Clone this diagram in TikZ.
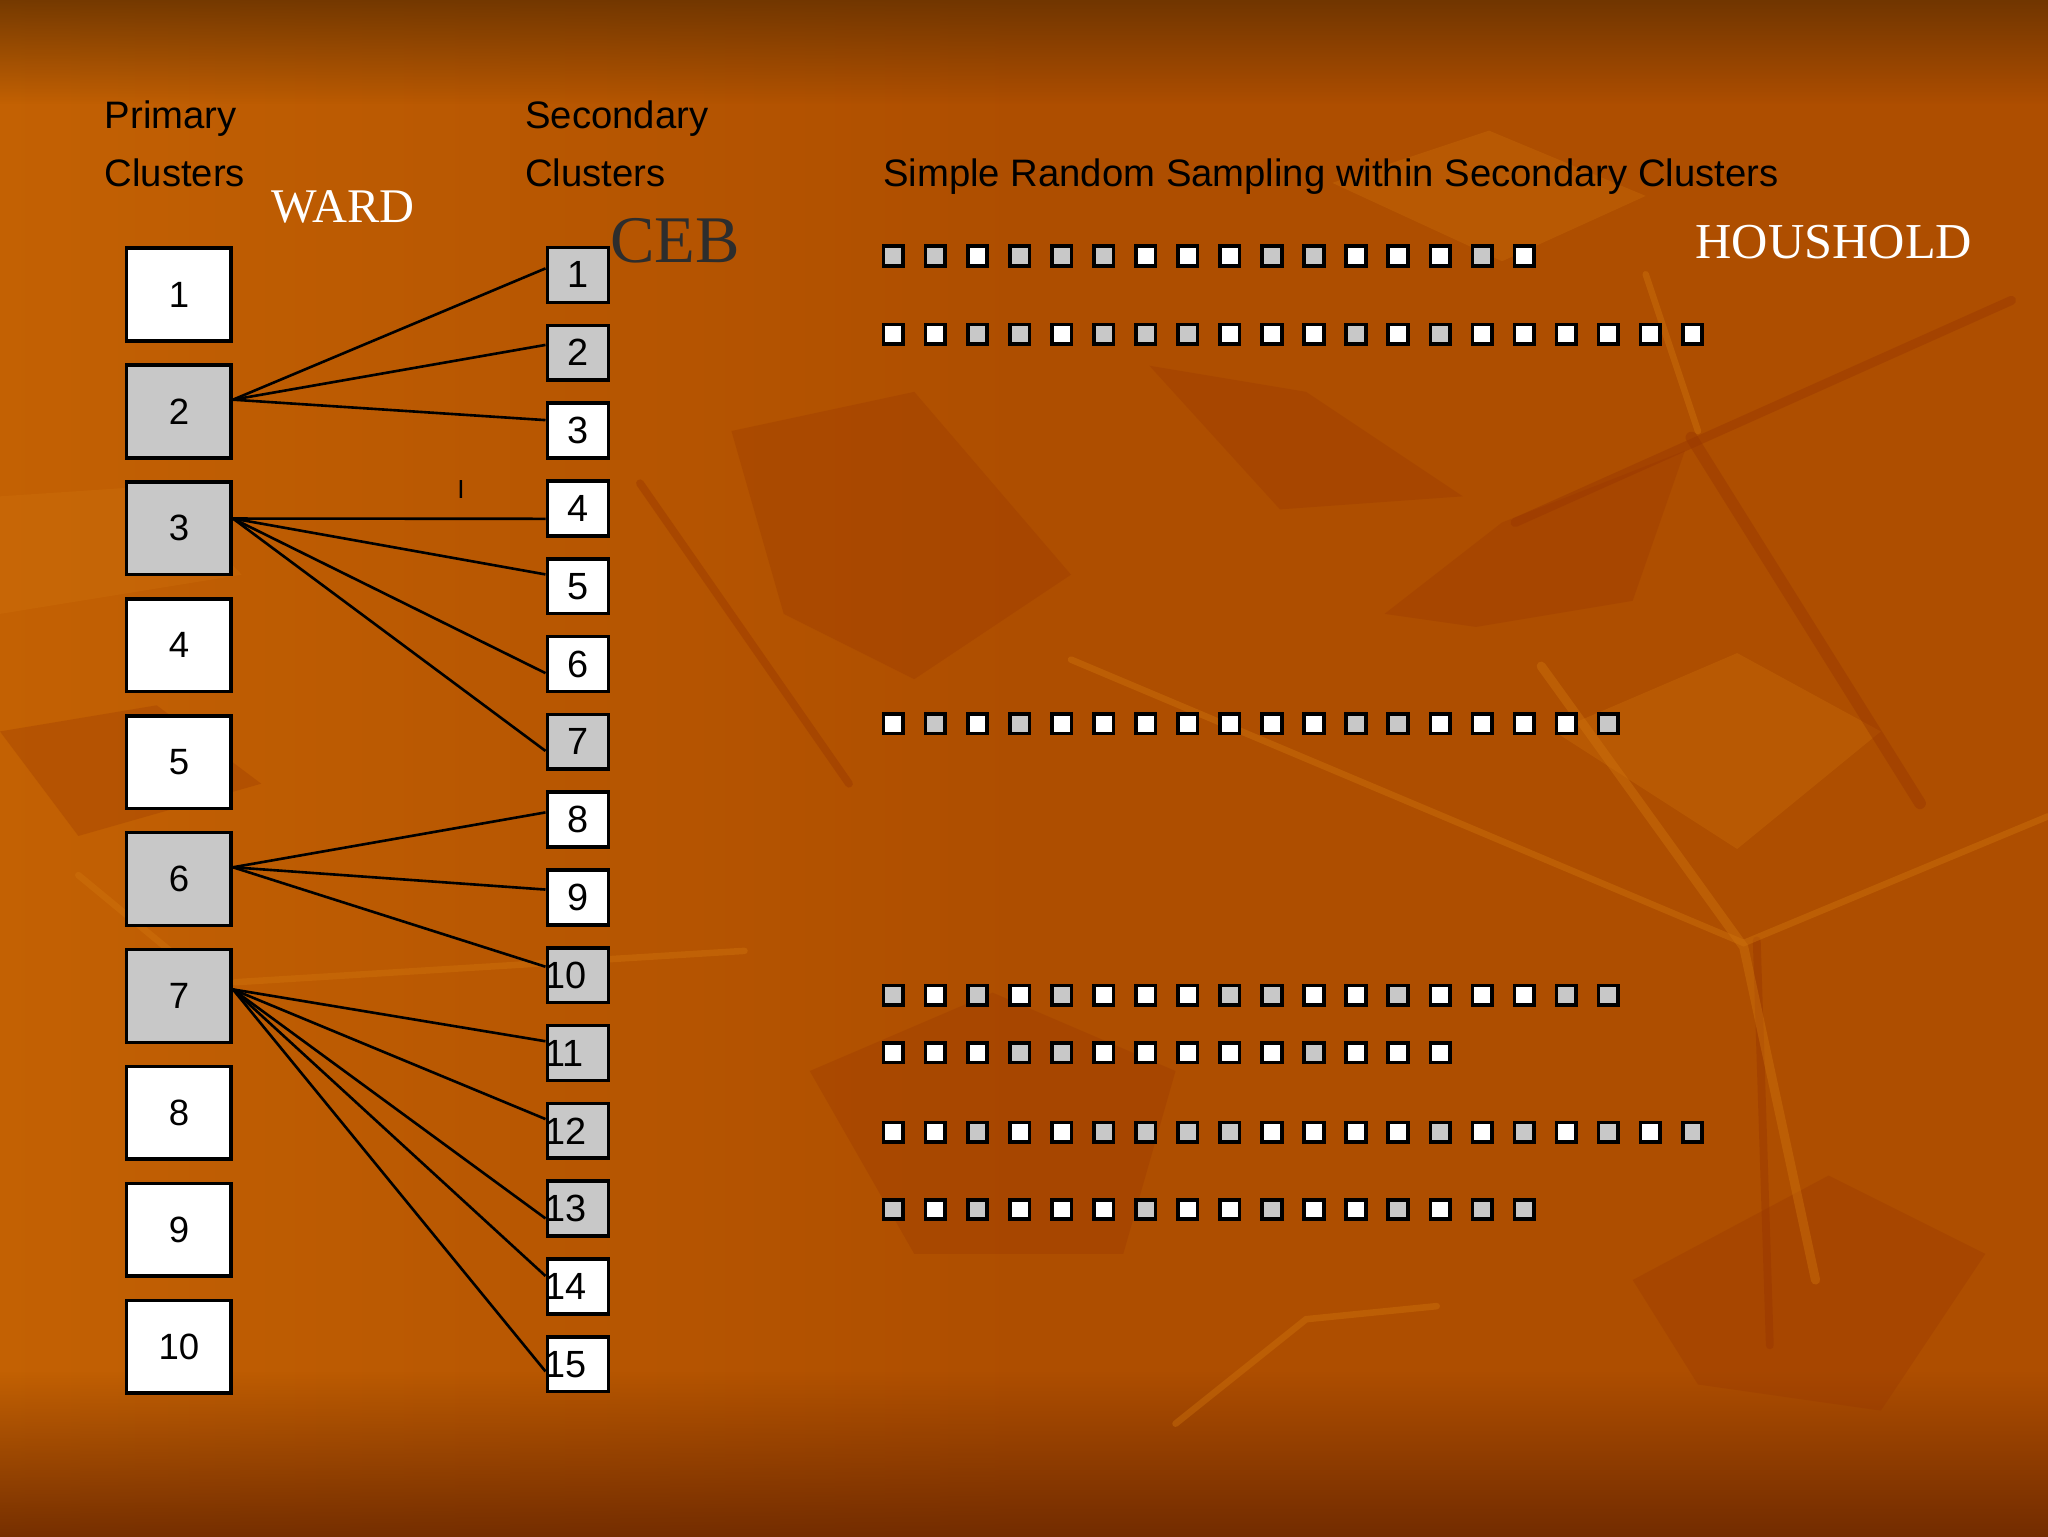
\documentclass[tikz,border=0pt]{standalone}
\usepackage{fontspec}
\setmainfont{Liberation Sans}
\newfontfamily\serifface{Liberation Serif}
\usetikzlibrary{calc,fadings}
\definecolor{bgmid}{RGB}{174,78,0}
\definecolor{bglite}{RGB}{196,98,4}
\definecolor{bgtop}{RGB}{98,48,0}
\definecolor{bgbot}{RGB}{104,38,0}
\definecolor{leafdark}{RGB}{150,52,0}
\definecolor{leaflight}{RGB}{210,118,14}
\definecolor{boxgray}{RGB}{200,200,200}
\definecolor{cebgray}{RGB}{45,45,45}
\tikzfading[name=fadedown, top color=transparent!0, bottom color=transparent!100]
\tikzfading[name=fadeup, top color=transparent!100, bottom color=transparent!0]
\tikzfading[name=faderight, left color=transparent!0, right color=transparent!100]
\tikzset{
  pbox/.style={draw=black, line width=2.7pt, minimum width=80pt, minimum height=71pt, inner sep=0pt, font=\fontsize{28}{30}\selectfont},
  sbox/.style={draw=black, line width=2.7pt, minimum width=47pt, minimum height=42pt, inner sep=0pt, font=\fontsize{29}{31}\selectfont},
  hh/.style={draw=black, line width=2.8pt, minimum size=15pt, inner sep=0pt},
  hG/.style={fill=boxgray}, hW/.style={fill=white},
  link/.style={line width=2pt, black},
  hdr/.style={anchor=base west, font=\fontsize{29.3}{35}\selectfont, inner sep=0pt, text=black},
  bigw/.style={anchor=base west, inner sep=0pt, text=white},
}
\begin{document}
\begin{tikzpicture}[x=1pt,y=-1pt]
\useasboundingbox (0,0) rectangle (1568,1176);
% background
\fill[bgmid] (-20,-20) rectangle (1590,1200);
\fill[bglite, path fading=faderight] (-20,-20) rectangle (800,1200);
\fill[bgtop, path fading=fadedown] (-20,-20) rectangle (1590,80);
\fill[bgbot, path fading=fadeup] (-20,1050) rectangle (1590,1200);
% leaf decoration
\begin{scope}[opacity=0.28]
\fill[leafdark] (560,330) -- (700,300) -- (820,440) -- (700,520) -- (600,470) -- cycle;
\fill[leafdark] (1060,470) -- (1150,400) -- (1290,345) -- (1250,460) -- (1130,480) -- cycle;
\fill[leafdark] (880,280) -- (1000,300) -- (1120,380) -- (980,390) -- cycle;
\fill[leafdark] (620,820) -- (760,760) -- (900,820) -- (860,960) -- (700,960) -- cycle;
\fill[leafdark] (1250,980) -- (1400,900) -- (1520,960) -- (1440,1080) -- (1300,1060) -- cycle;
\fill[leafdark] (0,560) -- (120,540) -- (200,600) -- (60,640) -- cycle;
\fill[leaflight] (0,380) -- (120,372) -- (185,440) -- (0,470) -- cycle;
\fill[leaflight] (1190,560) -- (1330,500) -- (1440,560) -- (1330,650) -- cycle;
\fill[leaflight] (1020,140) -- (1140,100) -- (1260,150) -- (1150,200) -- cycle;
\end{scope}
\begin{scope}[opacity=0.4, line cap=round]
\draw[leafdark, line width=9pt] (1295,335) -- (1470,615);
\draw[leafdark, line width=7pt] (1160,400) -- (1540,230);
\draw[leafdark, line width=6pt] (1345,720) -- (1355,1030);
\draw[leafdark, line width=6pt] (490,370) -- (650,600);
\draw[leaflight, line width=7pt] (1180,510) -- (1335,725) -- (1390,980);
\draw[leaflight, line width=5pt] (820,505) -- (1335,722) -- (1568,625);
\draw[leaflight, line width=5pt] (180,752) -- (570,728);
\draw[leaflight, line width=5pt] (60,670) -- (175,765);
\draw[leaflight, line width=5pt] (900,1090) -- (1000,1010) -- (1100,1000);
\draw[leaflight, line width=5pt] (1260,210) -- (1300,330);
\end{scope}
% headers
\node[hdr] (hp1) at (80,98) {Primary};
\node[hdr] (hp2) at (80,143) {Clusters};
\node[hdr] (hs1) at (402,98) {Secondary};
\node[hdr] (hs2) at (402,143) {Clusters};
\node[hdr] (hsr) at (676,143) {Simple Random Sampling within Secondary Clusters};
\node[bigw, font=\serifface\fontsize{37}{40}\selectfont] (ward) at (208,170) {WARD};
\node[anchor=base west, inner sep=0pt, text=cebgray, font=\serifface\fontsize{51}{55}\selectfont] (ceb) at (467,201) {CEB};
\node[bigw, font=\serifface\fontsize{38.5}{42}\selectfont] (hous) at (1298,198) {HOUSHOLD};
\node[inner sep=0pt, font=\fontsize{20}{22}\selectfont] (tick) at (353,375) {I};
% primary clusters
\foreach \i/\f in {1/hW,2/hG,3/hG,4/hW,5/hW,6/hG,7/hG,8/hW,9/hW,10/hW}{
  \node[pbox,\f] (p\i) at (137,{225.5+(\i-1)*89.5}) {\i};
}
% secondary clusters
\foreach \j/\f in {1/hG,2/hG,3/hW,4/hW,5/hW,6/hW,7/hG,8/hW,9/hW}{
  \node[sbox,\f] (s\j) at (442.5,{210.5+(\j-1)*59.57}) {\j};
}
\foreach \j/\f in {10/hG,11/hG,12/hG,13/hG,14/hW,15/hW}{
  \node[sbox,\f] (s\j) at (442.5,{210.5+(\j-1)*59.57}) {};
  \node[anchor=west, inner sep=0pt, font=\fontsize{29}{31}\selectfont] (sl\j) at ([xshift=-1pt]s\j.west) {\j};
}
% links
\draw[link] ([yshift=9pt]p2.east) -- ([yshift=5pt]s1.west);
\draw[link] ([yshift=9pt]p2.east) -- ([yshift=6pt]s2.west);
\draw[link] ([yshift=9pt]p2.east) -- ([yshift=8pt]s3.west);
\draw[link] ([yshift=7.5pt]p3.east) -- ([yshift=-8pt]s4.west);
\draw[link] ([yshift=7.5pt]p3.east) -- ([yshift=9pt]s5.west);
\draw[link] ([yshift=7.5pt]p3.east) -- ([yshift=-7pt]s6.west);
\draw[link] ([yshift=7.5pt]p3.east) -- ([yshift=-7pt]s7.west);
\draw[link] ([yshift=9pt]p6.east) -- ([yshift=5.5pt]s8.west);
\draw[link] ([yshift=9pt]p6.east) -- ([yshift=6pt]s9.west);
\draw[link] ([yshift=9pt]p6.east) -- ([yshift=6.5pt]s10.west);
\draw[link] ([yshift=5pt]p7.east) -- ([yshift=9pt]s11.west);
\draw[link] ([yshift=5pt]p7.east) -- ([yshift=9pt]s12.west);
\draw[link] ([yshift=5pt]p7.east) -- ([yshift=-7.5pt]s13.west);
\draw[link] ([yshift=5pt]p7.east) -- ([yshift=8pt]s14.west);
\draw[link] ([yshift=5pt]p7.east) -- ([yshift=-5.5pt]s15.west);
% households
\foreach \r/\yy/\pat in {
  1/196/{G,G,W,G,G,G,W,W,W,G,G,W,W,W,G,W},
  2/256/{W,W,G,G,W,G,G,G,W,W,W,G,W,G,W,W,W,W,W,W},
  3/554/{W,G,W,G,W,W,W,W,W,W,W,G,G,W,W,W,W,G},
  4/762/{G,W,G,W,G,W,W,W,G,G,W,W,G,W,W,W,G,G},
  5/806/{W,W,W,G,G,W,W,W,W,W,G,W,W,W},
  6/867/{W,W,G,W,W,G,G,G,G,W,W,W,W,G,W,G,W,G,W,G},
  7/926/{G,W,G,W,W,W,G,W,W,G,W,W,G,W,G,G}}{
  \foreach \c [count=\k from 0] in \pat {
    \node[hh,h\c] (h\r-\k) at ({684+32.2*\k},\yy) {};
  }
}
\end{tikzpicture}
\end{document}
